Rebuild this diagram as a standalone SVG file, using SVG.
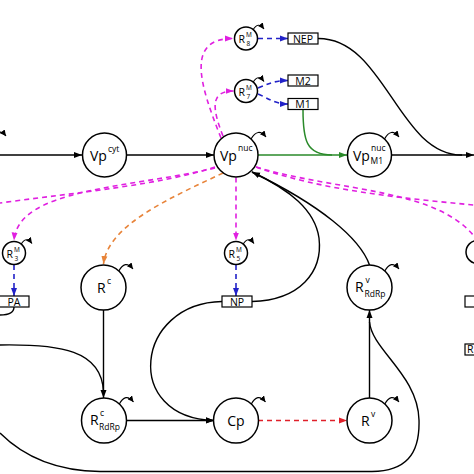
<svg xmlns="http://www.w3.org/2000/svg" width="474" height="474" viewBox="0 0 474 474">
<defs>
<style>
.n{fill:#fff;stroke:#000;stroke-width:1.5}
.b{fill:#fff;stroke:#000;stroke-width:1.2}
.t{font-family:"Open Sans","Liberation Sans",sans-serif;fill:#000}
.big{font-size:14px}
.sm{font-size:8.5px}
.st{font-size:10.5px}
.ss{font-size:6.5px}
.bx{font-size:10.5px;text-anchor:middle}
.k{fill:none;stroke:#000;stroke-width:1.4}
.g{fill:none;stroke:#2a8a2a;stroke-width:1.5}
.m{fill:none;stroke:#e020e0;stroke-width:1.6;stroke-dasharray:5 4}
.u{fill:none;stroke:#2222c8;stroke-width:1.6;stroke-dasharray:5 4}
.o{fill:none;stroke:#e8843a;stroke-width:1.6;stroke-dasharray:5 4}
.r{fill:none;stroke:#e0202a;stroke-width:1.6;stroke-dasharray:5 4}
.c{fill:none;stroke:#000;stroke-width:1.2}
</style>
<marker id="ak" markerUnits="userSpaceOnUse" markerWidth="9" markerHeight="7" refX="8" refY="3.5" orient="auto"><path d="M0,0.5 L8,3.5 L0,6.5 z" fill="#000"/></marker>
<marker id="ac" markerUnits="userSpaceOnUse" markerWidth="7" markerHeight="6" refX="6" refY="3" orient="auto"><path d="M0,0 L6,3 L0,6 z" fill="#000"/></marker>
<marker id="ag" markerUnits="userSpaceOnUse" markerWidth="9" markerHeight="7" refX="8" refY="3.5" orient="auto"><path d="M0,0.5 L8,3.5 L0,6.5 z" fill="#2a8a2a"/></marker>
<marker id="am" markerUnits="userSpaceOnUse" markerWidth="9" markerHeight="7" refX="8" refY="3.5" orient="auto"><path d="M0,0.5 L8,3.5 L0,6.5 z" fill="#e020e0"/></marker>
<marker id="au" markerUnits="userSpaceOnUse" markerWidth="9" markerHeight="7" refX="8" refY="3.5" orient="auto"><path d="M0,0.5 L8,3.5 L0,6.5 z" fill="#2222c8"/></marker>
<marker id="ao" markerUnits="userSpaceOnUse" markerWidth="9" markerHeight="7" refX="8" refY="3.5" orient="auto"><path d="M0,0.5 L8,3.5 L0,6.5 z" fill="#e8843a"/></marker>
<marker id="ar" markerUnits="userSpaceOnUse" markerWidth="9" markerHeight="7" refX="8" refY="3.5" orient="auto"><path d="M0,0.5 L8,3.5 L0,6.5 z" fill="#e0202a"/></marker>
</defs>

<g id="connectors">
<!-- black solid -->
<path class="k" d="M0,155 L82,155" marker-end="url(#ak)"/>
<path class="k" d="M127,155 L214,155" marker-end="url(#ak)"/>
<path class="k" d="M392,155 L474,155" marker-end="url(#ak)"/>
<path class="k" d="M318,38.5 C385,38 398,155 462,155"/>
<path class="k" d="M103.5,310 L103.5,398" marker-end="url(#ak)"/>
<path class="k" d="M0,345 C60,344 102,350 103.5,392"/>
<path class="k" d="M14,307 C14,313 7,315 0,315"/>
<path class="k" d="M126,420.5 L214,420.5" marker-end="url(#ak)"/>
<path class="k" d="M222,301.5 C135,303 122,418 214,420.5" marker-end="url(#ak)"/>
<path class="k" d="M252,301.5 C300,300 323,272 319,238 C315,210 290,190 252,172" marker-end="url(#ak)"/>
<path class="k" d="M369.5,265 C360,238 320,205 252,172"/>
<path class="k" d="M369.5,398 L369.5,310" marker-end="url(#ak)"/>
<path class="k" d="M0,433 C25,458 60,471 100,471.5 L372,471.5 C405,471 420,455 419,420 C418,375 372,350 369.5,322"/>
<!-- green -->
<path class="g" d="M258,155 L347,155" marker-end="url(#ag)"/>
<path class="g" d="M303,109.5 C303,140 306,155 332,155"/>
<!-- magenta dashed -->
<path class="m" d="M221,138 C200,85 185,38.5 233,38.5" marker-end="url(#am)"/>
<path class="m" d="M223,136 C212,108 210,91 233.5,91" marker-end="url(#am)"/>
<path class="m" d="M215,167 C160,185 80,192 0,203"/>
<path class="m" d="M215,168 C130,188 18,188 14,240.5" marker-end="url(#am)"/>
<path class="m" d="M256,167 C320,190 400,198 474,205"/>
<path class="m" d="M256,167 C340,192 440,188 477,240"/>
<path class="m" d="M236,177.5 L236,240.5" marker-end="url(#am)"/>
<!-- orange -->
<path class="o" d="M223,173 C170,198 108,225 103.5,264" marker-end="url(#ao)"/>
<!-- blue dashed -->
<path class="u" d="M258,38.5 L288,38.5" marker-end="url(#au)"/>
<path class="u" d="M258,88 C268,84 274,80.5 288,80.5" marker-end="url(#au)"/>
<path class="u" d="M258,94 C268,98 274,104 288,104" marker-end="url(#au)"/>
<path class="u" d="M14,265 L14,296" marker-end="url(#au)"/>
<path class="u" d="M236,265 L236,296" marker-end="url(#au)"/>
<!-- red dashed -->
<path class="r" d="M258,420.5 L347,420.5" marker-end="url(#ar)"/>
<!-- degradation curls -->
<path class="c" d="M-8,139 Q-1,127 6,136" marker-end="url(#ac)"/>
<path class="c" d="M251,139 Q258,127 266,137" marker-end="url(#ac)"/>
<path class="c" d="M384.5,139 Q391,127 399,137" marker-end="url(#ac)"/>
<path class="c" d="M118.5,271.5 Q125,259 133,269" marker-end="url(#ac)"/>
<path class="c" d="M384.5,271.5 Q391,259 399,269" marker-end="url(#ac)"/>
<path class="c" d="M119,404.5 Q125.5,392 133.5,402" marker-end="url(#ac)"/>
<path class="c" d="M251,404.5 Q257.5,392 265.5,402" marker-end="url(#ac)"/>
<path class="c" d="M384.5,404.5 Q391,392 399,402" marker-end="url(#ac)"/>
<path class="c" d="M253,30 Q258,21 264,29" marker-end="url(#ac)"/>
<path class="c" d="M253,82.5 Q258,73.5 264,81.5" marker-end="url(#ac)"/>
<path class="c" d="M21,244.5 Q26,235.5 32,243.5" marker-end="url(#ac)"/>
<path class="c" d="M243,244.5 Q248,235.5 254,243.5" marker-end="url(#ac)"/>
</g>

<g id="Vp_cyt"><circle class="n" cx="104.5" cy="155" r="22"/><text class="t big" x="90" y="161">Vp</text><text class="t sm" x="108" y="152">cyt</text></g>
<g id="Vp_nuc"><circle class="n" cx="236" cy="155" r="22"/><text class="t big" x="220" y="161">Vp</text><text class="t sm" x="238" y="151">nuc</text></g>
<g id="Vp_nuc_M1"><circle class="n" cx="369.5" cy="155" r="22"/><text class="t big" x="353" y="161">Vp</text><text class="t sm" x="371" y="151">nuc</text><text class="t sm" x="370.5" y="164">M1</text></g>
<g id="R8M"><circle class="n" cx="246" cy="38.5" r="11.5"/><text class="t st" x="238.5" y="43">R</text><text class="t ss" x="246" y="37">M</text><text class="t ss" x="246.5" y="46">8</text></g>
<g id="R7M"><circle class="n" cx="246" cy="91" r="11.5"/><text class="t st" x="238.5" y="95.5">R</text><text class="t ss" x="246" y="89.5">M</text><text class="t ss" x="246.5" y="98.5">7</text></g>
<g id="R3M"><circle class="n" cx="14" cy="253" r="11.5"/><text class="t st" x="6.5" y="257.5">R</text><text class="t ss" x="14" y="251.5">M</text><text class="t ss" x="14.5" y="260.5">3</text></g>
<g id="R5M"><circle class="n" cx="236" cy="253" r="11.5"/><text class="t st" x="228.5" y="257.5">R</text><text class="t ss" x="236" y="251.5">M</text><text class="t ss" x="236.5" y="260.5">5</text></g>
<g id="RxM"><circle class="n" cx="477.5" cy="252" r="11.5"/></g>
<g id="NEP"><rect class="b" x="288" y="33" width="30" height="11"/><text class="t bx" x="303" y="42.5">NEP</text></g>
<g id="M2"><rect class="b" x="288" y="75" width="30" height="11"/><text class="t bx" x="303" y="84.5">M2</text></g>
<g id="M1"><rect class="b" x="288" y="98.5" width="30" height="11"/><text class="t bx" x="303" y="108">M1</text></g>
<g id="PA"><rect class="b" x="-2" y="296" width="31" height="11"/><text class="t bx" x="14" y="305.5">PA</text></g>
<g id="NP"><rect class="b" x="222" y="296" width="30" height="11"/><text class="t bx" x="237" y="305.5">NP</text></g>
<g id="Bx1"><rect class="b" x="465" y="296" width="30" height="11"/></g>
<g id="Bx2"><rect class="b" x="465" y="344" width="30" height="11"/><text class="t st" x="467" y="353">R</text></g>
<g id="Rc"><circle class="n" cx="103.5" cy="287.5" r="22.5"/><text class="t big" x="97" y="293">R</text><text class="t sm" x="107" y="284">c</text></g>
<g id="RcRdRp"><circle class="n" cx="104" cy="420.5" r="22.5"/><text class="t big" x="90" y="425">R</text><text class="t sm" x="100" y="416">c</text><text class="t sm" x="99" y="429.5">RdRp</text></g>
<g id="Cp"><circle class="n" cx="236" cy="420.5" r="22.5"/><text class="t big" x="236" y="426" text-anchor="middle">Cp</text></g>
<g id="Rv"><circle class="n" cx="369.5" cy="420.5" r="22.5"/><text class="t big" x="361" y="426">R</text><text class="t sm" x="371" y="417">v</text></g>
<g id="RvRdRp"><circle class="n" cx="369.5" cy="287.5" r="22.5"/><text class="t big" x="355" y="292">R</text><text class="t sm" x="365.5" y="283">v</text><text class="t sm" x="364.5" y="296.5">RdRp</text></g>
</svg>
